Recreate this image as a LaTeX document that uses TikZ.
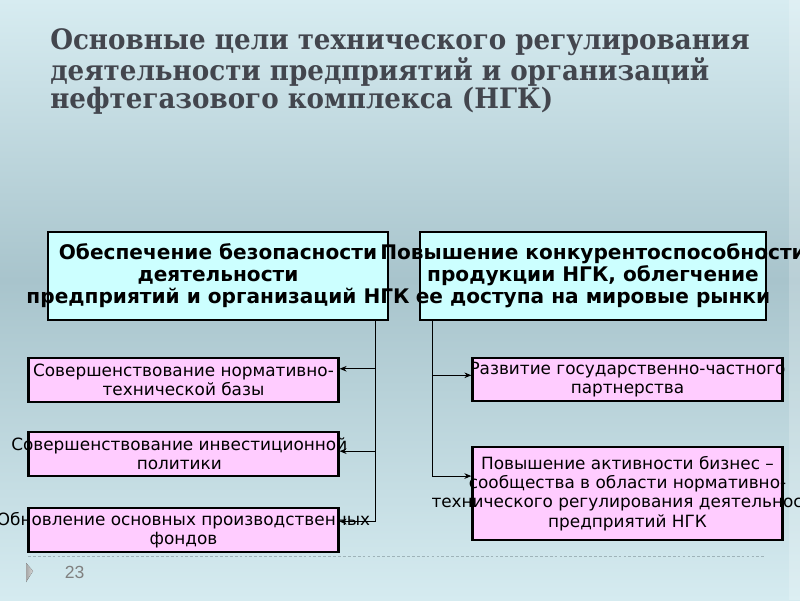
\documentclass[tikz,border=0pt]{standalone}
\usepackage{fontspec}
\setmainfont{DejaVu Sans}
\newfontfamily\titlefont[FakeStretch=0.93]{DejaVu Serif}
\newfontfamily\numfont{Liberation Sans}
\usetikzlibrary{arrows.meta}
\definecolor{bg-top}{HTML}{D7ECF1}
\definecolor{bg-mid}{HTML}{A8C4CC}
\definecolor{bg-bottom}{HTML}{D5EBF0}
\definecolor{goal-cyan}{HTML}{CCFFFF}
\definecolor{task-pink}{HTML}{FFCCFF}
\definecolor{title-gray}{HTML}{43464E}
\definecolor{rule-gray}{HTML}{9FB3B9}

\begin{document}
\begin{tikzpicture}[x=0.025cm, y=-0.025cm,
      every node/.style={font=\fontsize{12}{13.3}\selectfont},
      goal/.style={draw, line width=1.5pt, fill=goal-cyan, minimum width=#1*0.025cm,
            minimum height=2.2cm, inner sep=0pt},
      task/.style={draw, line width=1.5pt, fill=task-pink, minimum width=7.75cm,
            minimum height=#1*0.025cm, inner sep=0pt},
      link/.style={-{Stealth[length=5pt, width=4pt]}, line width=0.7pt}]
    % background
    \shade[top color=bg-top, bottom color=bg-mid] (0,0) rectangle (800,280);
    \shade[top color=bg-mid, bottom color=bg-bottom] (0,280) rectangle (800,600);
    \fill[white, opacity=0.2] (789,0) rectangle (800,600);
    \useasboundingbox (0,0) rectangle (800,600);
    % title
    \node[anchor=north west, align=left, text=title-gray, inner sep=0pt,
          font=\titlefont\bfseries\fontsize{20}{20.4}\selectfont] (title) at (50,28.5)
          {Основные цели технического регулирования\\
           деятельности предприятий и организаций\\
           нефтегазового комплекса (НГК)};
    % goals
    \node[goal=340] (TL) at (218,276) {};
    \node[goal=346] (TR) at (593,276) {};
    \node[align=center, font=\bfseries\fontsize{14.3}{15.6}\selectfont] (TLtext) at (TL.center)
          {Обеспечение безопасности\\деятельности\\предприятий и организаций НГК};
    \node[align=center, font=\bfseries\fontsize{14.3}{15.6}\selectfont] (TRtext) at (TR.center)
          {Повышение конкурентоспособности\\продукции НГК, облегчение\\ее доступа на мировые рынки};
    % tasks
    \node[task=44] (L1) at (183.5,380) {};
    \node[task=44] (L2) at (183.5,454) {};
    \node[task=44] (L3) at (183.5,530) {};
    \node[task=43] (R1) at (627.5,379.5) {};
    \node[task=93] (R2) at (627.5,493.5) {};
    \node[align=center] (L1text) at (L1.center) {Совершенствование нормативно-\\технической базы};
    \node[align=center] (L2text) at ([xshift=-3pt]L2.center) {Совершенствование инвестиционной\\политики};
    \node[align=center] (L3text) at (L3.center) {Обновление основных производственных\\фондов};
    \node[align=center] (R1text) at (R1.center) {Развитие государственно-частного\\партнерства};
    \node[align=center, font=\fontsize{12}{13.7}\selectfont] (R2text) at (R2.center)
          {Повышение активности бизнес –\\сообщества в области нормативно-\\технического регулирования деятельности\\предприятий НГК};
    % connectors
    \coordinate (lbus) at (375,0);
    \coordinate (rbus) at (432,0);
    \draw[link] (TL.south -| lbus) |- ([yshift=8pt]L1.east);
    \draw[link] (TL.south -| lbus) |- ([yshift=2pt]L2.east);
    \draw[link] (TL.south -| lbus) |- ([yshift=6pt]L3.east);
    \draw[link] (TR.south -| rbus) |- ([yshift=3pt]R1.west);
    \draw[link] (TR.south -| rbus) |- ([yshift=12.4pt]R2.west);
    % footer
    \draw[rule-gray, line width=0.6pt, dash pattern=on 2pt off 1.5pt] (28,556) -- (765,556);
    \fill[left color=gray!70, right color=gray!30] (26,563) -- (33,571) -- (26,582) -- cycle;
    \node[anchor=west, text=gray, font=\numfont\fontsize{12.5}{14}\selectfont] (page) at (60,572) {23};
  \end{tikzpicture}
\end{document}
